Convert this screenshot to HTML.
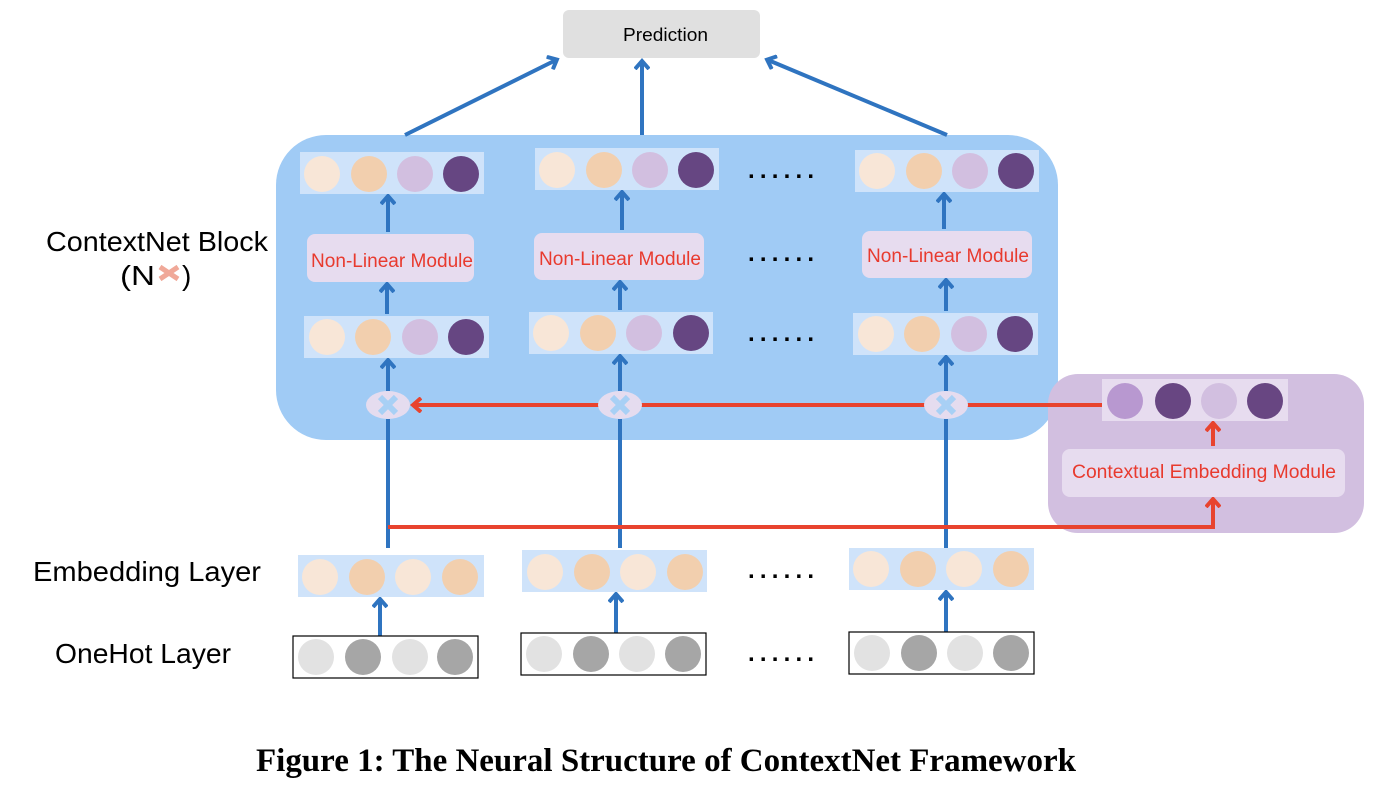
<!DOCTYPE html>
<html><head><meta charset="utf-8"><style>
body{margin:0;background:#fff;width:1384px;height:804px;overflow:hidden}
svg{display:block}
text{font-family:"Liberation Sans",sans-serif}
</style></head><body>
<svg width="1384" height="804" viewBox="0 0 1384 804" xmlns="http://www.w3.org/2000/svg">
<defs>
<marker id="ab" markerWidth="16" markerHeight="16" refX="8" refY="8" orient="auto" markerUnits="userSpaceOnUse"><path d="M1,1 L9,8 L1,15" fill="none" stroke="#2f74c0" stroke-width="4"/></marker>
<marker id="ar" markerWidth="16" markerHeight="16" refX="8" refY="8" orient="auto" markerUnits="userSpaceOnUse"><path d="M1,1 L9,8 L1,15" fill="none" stroke="#e8432e" stroke-width="4"/></marker>
</defs>
<rect x="276" y="135" width="782" height="305" rx="50" fill="#a0cbf5"/>
<rect x="1048" y="374" width="316" height="159" rx="30" fill="#d2bfe0"/>
<rect x="563" y="10" width="197" height="48" rx="6" fill="#e0e0e0"/>
<text x="623" y="41" font-size="18" textLength="85" lengthAdjust="spacingAndGlyphs">Prediction</text>
<g stroke="#2f74c0" stroke-width="4" fill="none">
<line x1="405" y1="135" x2="556" y2="60" marker-end="url(#ab)"/>
<line x1="642" y1="135" x2="642" y2="62" marker-end="url(#ab)"/>
<line x1="947" y1="135" x2="768" y2="60" marker-end="url(#ab)"/>
<line x1="388" y1="548" x2="388" y2="419"/><line x1="620" y1="548" x2="620" y2="419"/><line x1="946" y1="548" x2="946" y2="419"/>
<line x1="388" y1="391" x2="388" y2="361" marker-end="url(#ab)"/><line x1="620" y1="391" x2="620" y2="357" marker-end="url(#ab)"/><line x1="946" y1="391" x2="946" y2="358" marker-end="url(#ab)"/>
<line x1="387" y1="314" x2="387" y2="285" marker-end="url(#ab)"/><line x1="620" y1="310" x2="620" y2="283" marker-end="url(#ab)"/><line x1="946" y1="311" x2="946" y2="281" marker-end="url(#ab)"/>
<line x1="388" y1="232" x2="388" y2="197" marker-end="url(#ab)"/><line x1="622" y1="230" x2="622" y2="193" marker-end="url(#ab)"/><line x1="944" y1="229" x2="944" y2="195" marker-end="url(#ab)"/>
<line x1="380" y1="636" x2="380" y2="600" marker-end="url(#ab)"/><line x1="616" y1="633" x2="616" y2="595" marker-end="url(#ab)"/><line x1="946" y1="632" x2="946" y2="593" marker-end="url(#ab)"/>
</g>
<g stroke="#e8432e" stroke-width="4" fill="none">
<line x1="1105" y1="405" x2="414" y2="405" marker-end="url(#ar)"/>
<polyline points="388,527 1213,527 1213,500" marker-end="url(#ar)"/>
<line x1="1213" y1="446" x2="1213" y2="424" marker-end="url(#ar)"/>
</g>
<g fill="#e5dcef">
<ellipse cx="388" cy="405" rx="22" ry="14"/><ellipse cx="620" cy="405" rx="22" ry="14"/><ellipse cx="946" cy="405" rx="22" ry="14"/>
</g>
<g stroke="#a8d0f5" stroke-width="6">
<path d="M380,397 l16,16 M396,397 l-16,16"/><path d="M612,397 l16,16 M628,397 l-16,16"/><path d="M938,397 l16,16 M954,397 l-16,16"/>
</g>
<g fill="#cfe3fa">
<rect x="300" y="152" width="184" height="42"/><rect x="535" y="148" width="184" height="42"/><rect x="855" y="150" width="184" height="42"/>
<rect x="304" y="316" width="185" height="42"/><rect x="529" y="312" width="184" height="42"/><rect x="853" y="313" width="185" height="42"/>
<rect x="298" y="555" width="186" height="42"/><rect x="522" y="550" width="185" height="42"/><rect x="849" y="548" width="185" height="42"/>
</g>
<rect x="1102" y="379" width="186" height="42" fill="#e7dcef"/>
<g fill="#e7dcef">
<rect x="307" y="234" width="167" height="48" rx="8"/><rect x="534" y="233" width="170" height="47" rx="8"/><rect x="862" y="231" width="170" height="47" rx="8"/>
<rect x="1062" y="449" width="283" height="48" rx="8"/>
</g>
<g fill="#e83a2e" font-size="19">
<text x="311" y="267" textLength="162" lengthAdjust="spacingAndGlyphs">Non-Linear Module</text><text x="539" y="265" textLength="162" lengthAdjust="spacingAndGlyphs">Non-Linear Module</text><text x="867" y="262" textLength="162" lengthAdjust="spacingAndGlyphs">Non-Linear Module</text>
<text x="1072" y="478" textLength="264" lengthAdjust="spacingAndGlyphs">Contextual Embedding Module</text>
</g>
<g>
<circle cx="322" cy="174" r="18" fill="#f8e6d7"/><circle cx="369" cy="174" r="18" fill="#f2cfae"/><circle cx="415" cy="174" r="18" fill="#d2bfe0"/><circle cx="461" cy="174" r="18" fill="#664682"/>
<circle cx="557" cy="170" r="18" fill="#f8e6d7"/><circle cx="604" cy="170" r="18" fill="#f2cfae"/><circle cx="650" cy="170" r="18" fill="#d2bfe0"/><circle cx="696" cy="170" r="18" fill="#664682"/>
<circle cx="877" cy="171" r="18" fill="#f8e6d7"/><circle cx="924" cy="171" r="18" fill="#f2cfae"/><circle cx="970" cy="171" r="18" fill="#d2bfe0"/><circle cx="1016" cy="171" r="18" fill="#664682"/>
<circle cx="327" cy="337" r="18" fill="#f8e6d7"/><circle cx="373" cy="337" r="18" fill="#f2cfae"/><circle cx="420" cy="337" r="18" fill="#d2bfe0"/><circle cx="466" cy="337" r="18" fill="#664682"/>
<circle cx="551" cy="333" r="18" fill="#f8e6d7"/><circle cx="598" cy="333" r="18" fill="#f2cfae"/><circle cx="644" cy="333" r="18" fill="#d2bfe0"/><circle cx="691" cy="333" r="18" fill="#664682"/>
<circle cx="876" cy="334" r="18" fill="#f8e6d7"/><circle cx="922" cy="334" r="18" fill="#f2cfae"/><circle cx="969" cy="334" r="18" fill="#d2bfe0"/><circle cx="1015" cy="334" r="18" fill="#664682"/>
<circle cx="1125" cy="401" r="18" fill="#b898d0"/><circle cx="1173" cy="401" r="18" fill="#684682"/><circle cx="1219" cy="401" r="18" fill="#d2bfe0"/><circle cx="1265" cy="401" r="18" fill="#684682"/>
<circle cx="320" cy="577" r="18" fill="#f8e6d7"/><circle cx="367" cy="577" r="18" fill="#f2cfae"/><circle cx="413" cy="577" r="18" fill="#f8e6d7"/><circle cx="460" cy="577" r="18" fill="#f2cfae"/>
<circle cx="545" cy="572" r="18" fill="#f8e6d7"/><circle cx="592" cy="572" r="18" fill="#f2cfae"/><circle cx="638" cy="572" r="18" fill="#f8e6d7"/><circle cx="685" cy="572" r="18" fill="#f2cfae"/>
<circle cx="871" cy="569" r="18" fill="#f8e6d7"/><circle cx="918" cy="569" r="18" fill="#f2cfae"/><circle cx="964" cy="569" r="18" fill="#f8e6d7"/><circle cx="1011" cy="569" r="18" fill="#f2cfae"/>
</g>
<g fill="none" stroke="#000" stroke-width="1.2">
<rect x="293" y="636" width="185" height="42"/><rect x="521" y="633" width="185" height="42"/><rect x="849" y="632" width="185" height="42"/>
</g>
<g>
<circle cx="316" cy="657" r="18" fill="#e2e2e2"/><circle cx="363" cy="657" r="18" fill="#a6a6a6"/><circle cx="410" cy="657" r="18" fill="#e2e2e2"/><circle cx="455" cy="657" r="18" fill="#a6a6a6"/>
<circle cx="544" cy="654" r="18" fill="#e2e2e2"/><circle cx="591" cy="654" r="18" fill="#a6a6a6"/><circle cx="637" cy="654" r="18" fill="#e2e2e2"/><circle cx="683" cy="654" r="18" fill="#a6a6a6"/>
<circle cx="872" cy="653" r="18" fill="#e2e2e2"/><circle cx="919" cy="653" r="18" fill="#a6a6a6"/><circle cx="965" cy="653" r="18" fill="#e2e2e2"/><circle cx="1011" cy="653" r="18" fill="#a6a6a6"/>
</g>
<g font-size="24" font-weight="bold" fill="#000">
<text x="748" y="178" textLength="66">......</text><text x="748" y="261" textLength="66">......</text><text x="748" y="341" textLength="66">......</text><text x="748" y="578" textLength="66">......</text><text x="748" y="661" textLength="66">......</text>
</g>
<g font-size="28" fill="#000">
<text x="46" y="251" textLength="222" lengthAdjust="spacingAndGlyphs">ContextNet Block</text>
<text x="120" y="285" textLength="35" lengthAdjust="spacingAndGlyphs">(N</text><text x="182" y="285">)</text>
<text x="33" y="581" textLength="228" lengthAdjust="spacingAndGlyphs">Embedding Layer</text>
<text x="55" y="663" textLength="176" lengthAdjust="spacingAndGlyphs">OneHot Layer</text>
</g>
<path d="M160,267 l18,12 M178,267 l-18,12" stroke="#f0a898" stroke-width="5"/>
<text x="256" y="771" font-size="33" font-weight="bold" textLength="820" lengthAdjust="spacingAndGlyphs" style="font-family:'Liberation Serif',serif">Figure 1: The Neural Structure of ContextNet Framework</text>
</svg>
</body></html>
